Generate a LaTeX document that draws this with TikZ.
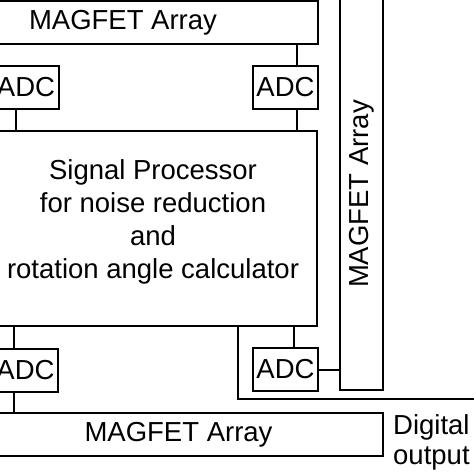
\documentclass[tikz,border=0pt]{standalone}
\usepackage{fontspec}
\setmainfont{Liberation Sans}
\begin{document}
\begin{tikzpicture}[x=1pt,y=-1pt,
  blk/.style={draw=black,line width=2pt,fill=white,inner sep=0pt,
    font=\fontsize{27.5}{33}\selectfont,minimum height=43pt},
  conn/.style={draw=black,line width=2pt},
  txt/.style={font=\fontsize{27.5}{33}\selectfont,inner sep=0pt}]
\useasboundingbox (0,0) rectangle (474,474);
\clip (0,0) rectangle (474,474);
% blocks
\node[blk,minimum width=390pt] (topmag) at (123,22.5) {MAGFET Array};
\node[blk,minimum width=65pt] (tladc) at (26,87.5) {ADC};
\node[blk,minimum width=65pt] (tradc) at (285.5,87.5) {ADC};
\node[blk,minimum width=328pt,minimum height=195pt] (proc) at (153,228.5) {};
\node[txt,align=center,anchor=base] (proctext) at (153,278)
  {Signal Processor\\for noise reduction\\and\\rotation angle calculator};
\node[blk,minimum width=392pt,rotate=90] (rmag) at (361.5,194) {MAGFET Array};
\node[blk,minimum width=65pt] (bradc) at (285.5,369.5) {ADC};
\node[blk,minimum width=65pt] (bladc) at (25.5,370) {ADC};
\node[blk,minimum width=409pt] (botmag) at (178.5,434.5) {MAGFET Array};
\node[txt,align=left,anchor=base west,font=\fontsize{27.5}{30}\selectfont] (dout) at (393,464) {Digital\\output};
% connector x positions
\coordinate (xa) at (16,0);
\coordinate (xb) at (297,0);
\coordinate (xc) at (294,0);
\coordinate (xd) at (14,0);
\coordinate (xe) at (238,0);
\coordinate (outend) at (480,399);
% connectors
\draw[conn] (topmag.south -| xb) -- (tradc.north -| xb);
\draw[conn] (tradc.south -| xb) -- (proc.north -| xb);
\draw[conn] (tladc.south -| xa) -- (proc.north -| xa);
\draw[conn] (proc.south -| xc) -- (bradc.north -| xc);
\draw[conn] (bradc.east) -- (bradc.east -| rmag.north);
\draw[conn] (proc.south -| xd) -- (bladc.north -| xd);
\draw[conn] (bladc.south -| xd) -- (botmag.north -| xd);
\draw[conn] (proc.south -| xe) |- (outend);
\end{tikzpicture}
\end{document}
